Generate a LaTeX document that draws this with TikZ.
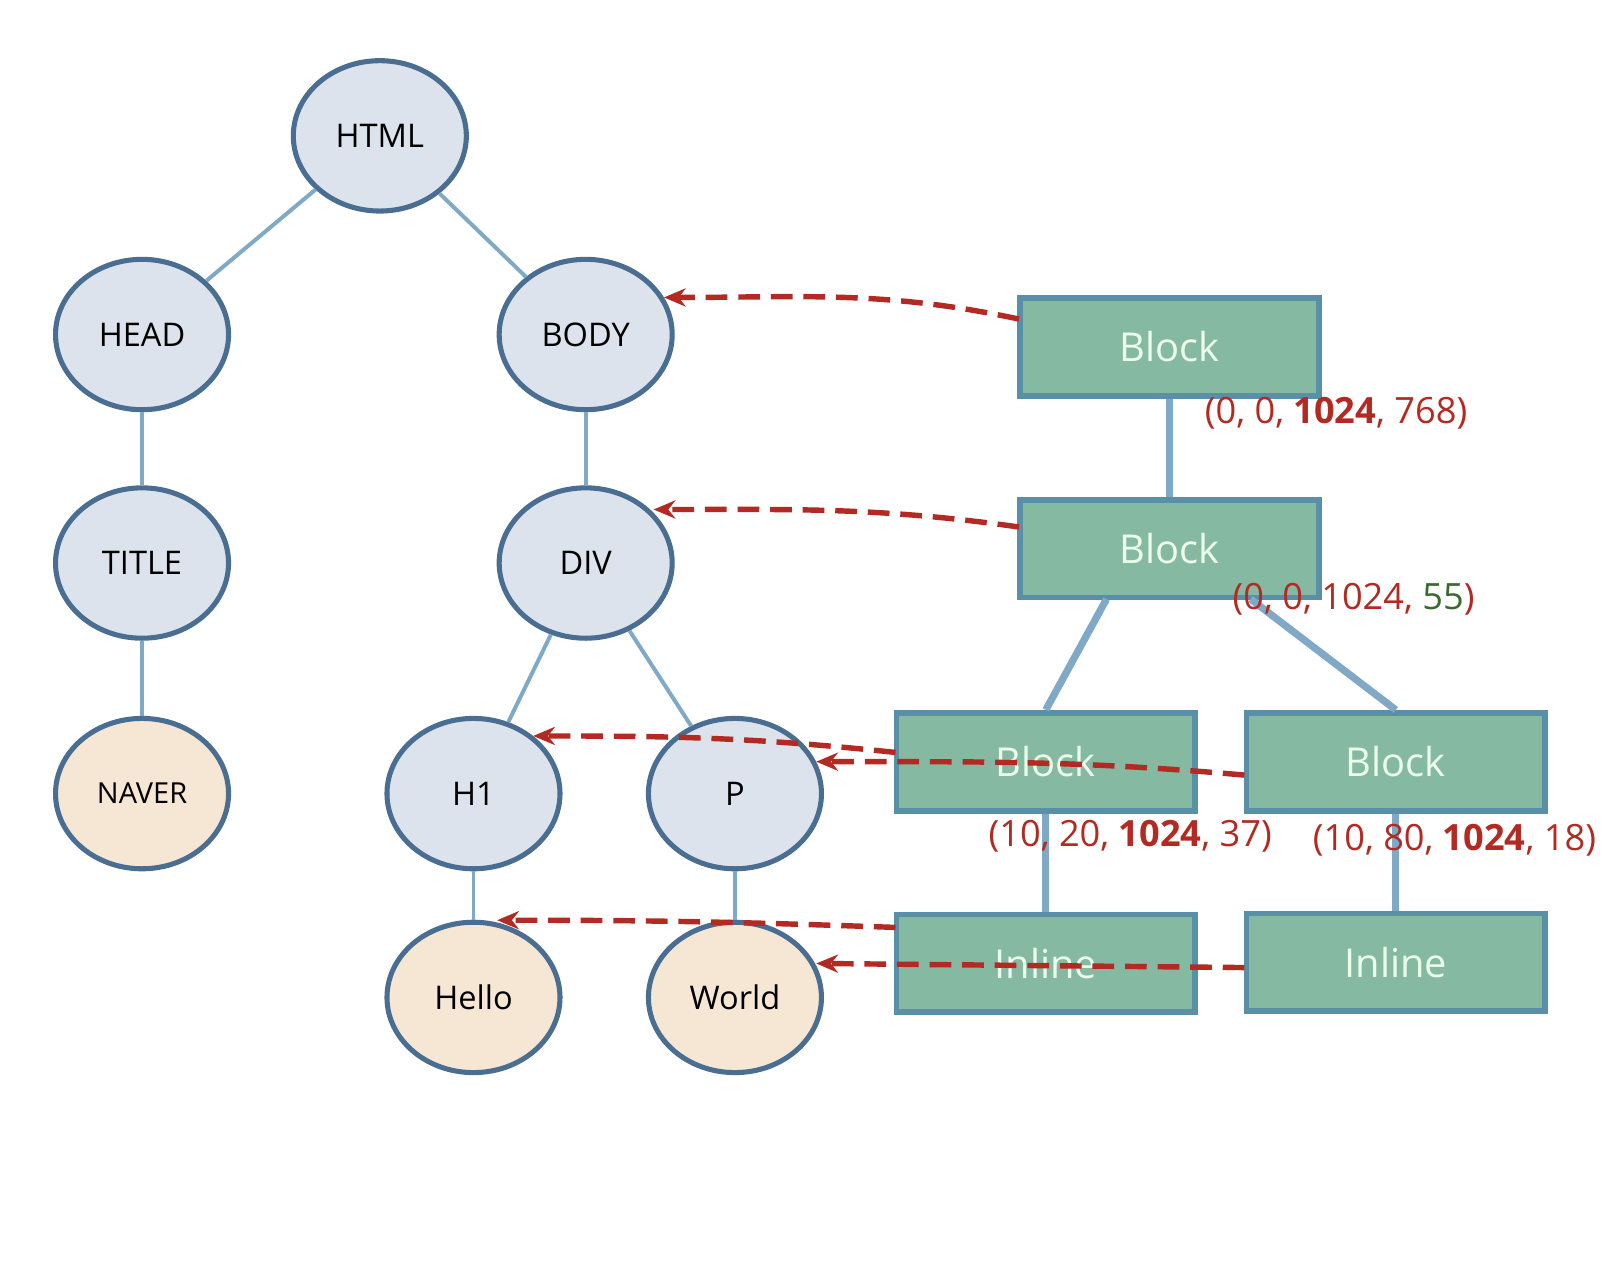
\documentclass[tikz,border=0pt]{standalone}
\usepackage{fontspec}
\setmainfont{Open Sans}
\usetikzlibrary{arrows.meta,shapes.geometric}
\definecolor{efill}{HTML}{DCE3EC}
\definecolor{eline}{HTML}{4A6E92}
\definecolor{pfill}{HTML}{F6E6D4}
\definecolor{bfill}{HTML}{86B9A2}
\definecolor{bline}{HTML}{5A8FA8}
\definecolor{edge}{HTML}{7FA9C6}
\definecolor{rd}{HTML}{B22A22}
\definecolor{gr}{HTML}{3A6A30}
\begin{document}
\begin{tikzpicture}[x=0.01cm,y=-0.01cm,
  el/.style={ellipse,draw=eline,line width=1.4pt,fill=efill,minimum width=1.68cm,minimum height=1.46cm,font=\fontsize{9}{11}\selectfont,inner sep=0pt},
  pe/.style={el,fill=pfill},
  bx/.style={rectangle,draw=bline,line width=1.6pt,fill=bfill,minimum width=2.9cm,minimum height=0.95cm,text=white!92!green,font=\fontsize{11}{13}\selectfont},
  tr/.style={draw=edge,line width=1.1pt},
  br/.style={draw=edge,line width=2pt},
  ar/.style={draw=rd,line width=1.5pt,dashed,dash pattern=on 6pt off 3pt,-{Stealth[length=6pt,width=5pt]}},
  lb/.style={text=rd,font=\fontsize{10}{12}\selectfont,inner sep=0pt}]
\useasboundingbox (0,0) rectangle (1568,1240);
\node[el] (html) at (369,132) {HTML};
\node[el] (head) at (138,325) {HEAD};
\node[el] (body) at (569,325) {BODY};
\node[el] (title) at (138,547) {TITLE};
\node[el] (div) at (569,547) {DIV};
\node[pe] (naver) at (138,771) {\fontsize{8}{10}\selectfont NAVER};
\node[el] (h1) at (460,771) {H1};
\node[el] (p) at (714,771) {P};
\node[pe] (hello) at (460,969) {Hello};
\node[pe] (world) at (714,969) {World};
\draw[tr] (html) -- (head); \draw[tr] (html) -- (body);
\draw[tr] (head) -- (title); \draw[tr] (title) -- (naver);
\draw[tr] (body) -- (div); \draw[tr] (div) -- (h1); \draw[tr] (div) -- (p);
\draw[tr] (h1) -- (hello); \draw[tr] (p) -- (world);
\node[bx] (b1) at (1136,337) {Block};
\node[bx] (b2) at (1136,533) {Block};
\node[bx] (b3) at (1016,740) {Block};
\node[bx] (b4) at (1356,740) {Block};
\node[bx] (i1) at (1016,936) {Inline};
\node[bx] (i2) at (1356,935) {Inline};
\coordinate (s1) at (1075,582); \coordinate (s2) at (1215,582);
\draw[br] (b1) -- (b2);
\draw[br] (s1) -- (b3.north);
\draw[br] (s2) -- (b4.north);
\draw[br] (b3) -- (i1); \draw[br] (b4) -- (i2);
\node[lb] (l1) at (1298,401) {(0, 0, \textbf{1024}, 768)};
\node[lb] (l2) at (1315,582) {(0, 0, 1024, \textcolor{gr}{55})};
\node[lb] (l3) at (1098,812) {(10, 20, \textbf{1024}, 37)};
\node[lb] (l4) at (1413,816) {(10, 80, \textbf{1024}, 18)};
\coordinate (a1) at (990,310); \coordinate (t1) at (645,289);
\coordinate (a2) at (990,512); \coordinate (t2) at (635,495);
\coordinate (a3) at (870,731); \coordinate (t3) at (518,715);
\coordinate (a4) at (1209,753); \coordinate (t4) at (793,740);
\coordinate (a5) at (870,901); \coordinate (t5) at (483,894);
\coordinate (a6) at (1209,940); \coordinate (t6) at (793,936);
\draw[ar] (a1) to[out=168,in=0] (t1);
\draw[ar] (a2) to[out=172,in=0] (t2);
\draw[ar] (a3) to[out=174,in=0] (t3);
\draw[ar] (a4) to[out=175,in=0] (t4);
\draw[ar] (a5) to[out=178,in=0] (t5);
\draw[ar] (a6) -- (t6);
\end{tikzpicture}
\end{document}
